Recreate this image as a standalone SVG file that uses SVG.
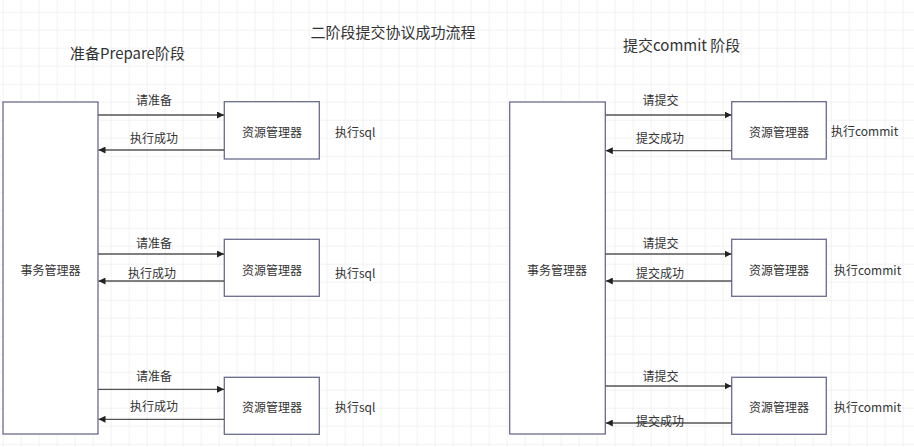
<svg xmlns="http://www.w3.org/2000/svg" width="914" height="447" viewBox="0 0 914 447">
<defs>
<pattern id="grid" x="2.7" y="11.7" width="18" height="18" patternUnits="userSpaceOnUse">
<path d="M0 0 H18 M0 0 V18" fill="none" stroke="#e6e6e6" stroke-width="1"/>
</pattern>
<marker id="ah" viewBox="0 0 10 10" refX="10" refY="5" markerWidth="7" markerHeight="7" markerUnits="userSpaceOnUse" orient="auto">
<path d="M0 0 L10 5 L0 10 Z" fill="#222"/>
</marker>
<style>
.box{fill:#fff;stroke:#6b6b8e;stroke-width:1.3}
.t{font-family:"Noto Sans CJK SC","Noto Sans",sans-serif;fill:#333;font-size:12px;dominant-baseline:central}
.m{text-anchor:middle}
.h{font-size:15px}
.c line{stroke:#555;stroke-width:1.3;marker-end:url(#ah)}
</style>
</defs>
<rect width="914" height="447" fill="#fff"/>
<rect width="914" height="447" fill="url(#grid)"/>

<text class="t h m" x="393" y="31">二阶段提交协议成功流程</text>
<text class="t h" x="70" y="52.5" font-size="14.5">准备Prepare阶段</text>
<text class="t h" x="623" y="44.5" font-size="14.5">提交commit 阶段</text>

<g id="tm1"><rect class="box" x="3" y="102" width="95" height="332"/><text class="t m" x="50.5" y="269">事务管理器</text></g>
<g id="rm1"><rect class="box" x="224.3" y="101.7" width="95" height="57.3"/><text class="t m" x="272" y="131">资源管理器</text></g>
<g id="rm2"><rect class="box" x="224.3" y="239.3" width="95" height="57"/><text class="t m" x="272" y="269">资源管理器</text></g>
<g id="rm3"><rect class="box" x="224.3" y="377.3" width="95" height="57"/><text class="t m" x="272" y="406">资源管理器</text></g>

<g id="tm2"><rect class="box" x="509.7" y="102" width="95.6" height="332"/><text class="t m" x="557" y="269">事务管理器</text></g>
<g id="rm4"><rect class="box" x="731.7" y="101.7" width="94.6" height="57.3"/><text class="t m" x="779" y="131">资源管理器</text></g>
<g id="rm5"><rect class="box" x="731.7" y="239.3" width="94.6" height="57"/><text class="t m" x="779" y="269">资源管理器</text></g>
<g id="rm6"><rect class="box" x="731.7" y="377.3" width="94.6" height="57"/><text class="t m" x="779" y="406">资源管理器</text></g>

<g class="t">
<text x="335" y="131">执行sql</text>
<text x="335" y="272">执行sql</text>
<text x="335" y="406">执行sql</text>
<text x="831" y="130">执行commit</text>
<text x="834" y="269">执行commit</text>
<text x="834" y="406">执行commit</text>
</g>

<g id="connectors" class="c">
<line x1="98" y1="115" x2="224" y2="115"/>
<line x1="224" y1="150" x2="98.5" y2="150"/>
<line x1="98" y1="254" x2="224" y2="254"/>
<line x1="224" y1="281" x2="98.5" y2="281"/>
<line x1="98" y1="389.3" x2="224" y2="389.3"/>
<line x1="224" y1="419.3" x2="98.5" y2="419.3"/>
<line x1="605.3" y1="115" x2="731.5" y2="115"/>
<line x1="731.5" y1="150.7" x2="605.8" y2="150.7"/>
<line x1="605.3" y1="254" x2="731.5" y2="254"/>
<line x1="731.5" y1="281" x2="605.8" y2="281"/>
<line x1="605.3" y1="386" x2="731.5" y2="386"/>
<line x1="731.5" y1="423" x2="605.8" y2="423"/>
</g>

<g class="t m">
<text x="154" y="99">请准备</text>
<text x="154" y="137.5">执行成功</text>
<text x="154" y="242.5">请准备</text>
<text x="152" y="272">执行成功</text>
<text x="154" y="375">请准备</text>
<text x="154" y="405.5">执行成功</text>
<text x="660.5" y="99">请提交</text>
<text x="660" y="137.5">提交成功</text>
<text x="660.5" y="242.5">请提交</text>
<text x="660" y="272">提交成功</text>
<text x="660.5" y="375">请提交</text>
<text x="660" y="420.5">提交成功</text>
</g>
</svg>
